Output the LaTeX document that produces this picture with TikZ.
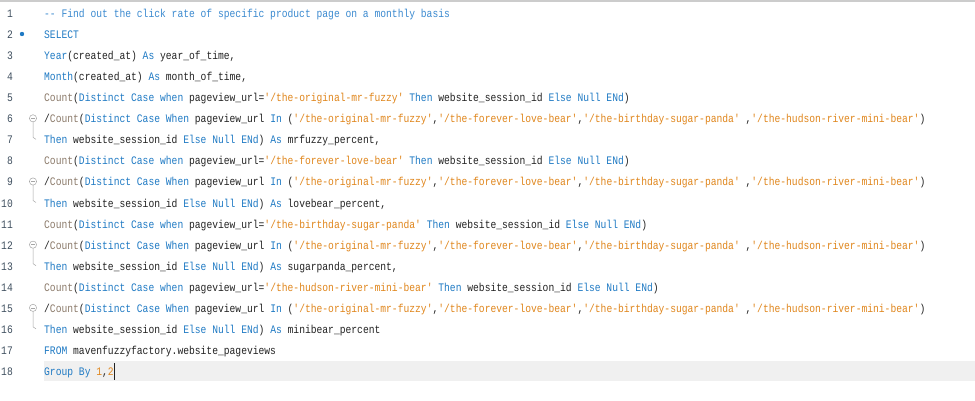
\documentclass[tikz,border=0pt]{standalone}
\usepackage{fontspec}
\setmonofont[FakeStretch=0.84]{Liberation Mono}
\definecolor{kw}{HTML}{1F7AC4}
\definecolor{fn}{HTML}{8C7B6B}
\definecolor{st}{HTML}{E0861C}
\definecolor{cm}{HTML}{3B8AD0}
\definecolor{tx}{HTML}{222222}
\definecolor{ln}{HTML}{3F4F5F}
\newcommand{\K}[1]{\textcolor{kw}{#1}}
\newcommand{\F}[1]{\textcolor{fn}{#1}}
\newcommand{\Sq}[1]{\textcolor{st}{#1}}
\newcommand{\INL}{\K{In} (\Sq{'/the-original-mr-fuzzy'},\Sq{'/the-forever-love-bear'},\Sq{'/the-birthday-sugar-panda'} ,\Sq{'/the-hudson-river-mini-bear'})}
\begin{document}
\begin{tikzpicture}[x=1pt,y=-1pt,
  code/.style={anchor=base west,inner sep=0pt,font=\ttfamily\fontsize{11.5}{12}\selectfont,text=tx},
  num/.style={anchor=base east,inner sep=0pt,font=\ttfamily\fontsize{11.5}{12}\selectfont,text=ln},
  fold/.style={draw=gray!70,line width=0.5pt}]
\useasboundingbox (0,0) rectangle (975,400);
\fill[white] (0,0) rectangle (975,400);
\draw[gray!40,line width=1.5pt] (0,1) -- (975,1);
\fill[gray!12] (44,361) rectangle (975,381);
\def\L#1#2{\node[num] (n#1) at (13,{17.5+(#1-1)*21.06}) {#1};
  \node[code] (c#1) at (44,{17.5+(#1-1)*21.06}) {#2};}
\L{1}{\textcolor{cm}{-- Find out the click rate of specific product page on a monthly basis}}
\L{2}{\K{SELECT}}
\L{3}{\K{Year}(created\_at) \K{As} year\_of\_time,}
\L{4}{\K{Month}(created\_at) \K{As} month\_of\_time,}
\L{5}{\F{Count}(\K{Distinct Case when} pageview\_url=\Sq{'/the-original-mr-fuzzy'} \K{Then} website\_session\_id \K{Else Null ENd})}
\L{6}{/\F{Count}(\K{Distinct Case When} pageview\_url \INL}
\L{7}{\K{Then} website\_session\_id \K{Else Null ENd}) \K{As} mrfuzzy\_percent,}
\L{8}{\F{Count}(\K{Distinct Case when} pageview\_url=\Sq{'/the-forever-love-bear'} \K{Then} website\_session\_id \K{Else Null ENd})}
\L{9}{/\F{Count}(\K{Distinct Case When} pageview\_url \INL}
\L{10}{\K{Then} website\_session\_id \K{Else Null ENd}) \K{As} lovebear\_percent,}
\L{11}{\F{Count}(\K{Distinct Case when} pageview\_url=\Sq{'/the-birthday-sugar-panda'} \K{Then} website\_session\_id \K{Else Null ENd})}
\L{12}{/\F{Count}(\K{Distinct Case When} pageview\_url \INL}
\L{13}{\K{Then} website\_session\_id \K{Else Null ENd}) \K{As} sugarpanda\_percent,}
\L{14}{\F{Count}(\K{Distinct Case when} pageview\_url=\Sq{'/the-hudson-river-mini-bear'} \K{Then} website\_session\_id \K{Else Null ENd})}
\L{15}{/\F{Count}(\K{Distinct Case When} pageview\_url \INL}
\L{16}{\K{Then} website\_session\_id \K{Else Null ENd}) \K{As} minibear\_percent}
\L{17}{\K{FROM} mavenfuzzyfactory.website\_pageviews}
\L{18}{\K{Group By} \Sq{1},\Sq{2}}
\draw[tx,line width=0.8pt] ([xshift=0.8pt]c18.east |- 0,363) -- ([xshift=0.8pt]c18.east |- 0,380);
\fill[kw] (22,34) circle (2.2);
\foreach \n in {6,9,12,15}{
  \pgfmathsetmacro{\yy}{13+(\n-1)*21.06}
  \draw[fold,fill=white] (33,\yy) circle (3.6);
  \draw[fold] (31,\yy) -- (35,\yy);
  \draw[fold] (33,\yy+3.6) -- (33,\yy+19) -- (36,\yy+21);
}
\end{tikzpicture}
\end{document}
